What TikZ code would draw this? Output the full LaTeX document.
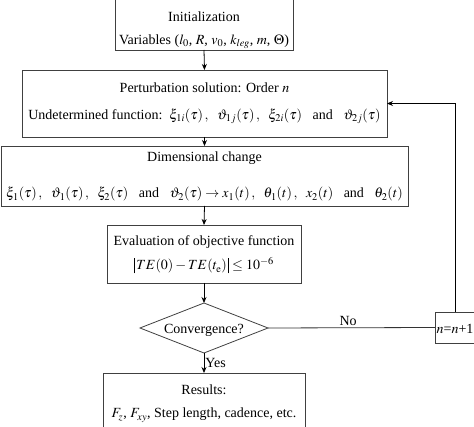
\documentclass[tikz,border=0pt]{standalone}
\usepackage{mathptmx}
\usepackage{fontspec}
\setmainfont{Liberation Serif}
\usetikzlibrary{shapes.geometric,arrows.meta}
\newcommand{\absbar}{\rule[-3.5pt]{0.6pt}{15pt}}
\begin{document}
\begin{tikzpicture}[x=1pt,y=-1pt,
  box/.style={draw=black!75,line width=0.8pt,inner sep=0pt,outer sep=0pt},
  txt/.style={anchor=base,inner sep=0pt,font=\fontsize{14}{16}\selectfont},
  arr/.style={draw=black,line width=0.8pt,-{Stealth[length=6pt,width=5pt]}},
  lin/.style={draw=black!80,line width=0.8pt}]
\useasboundingbox (0,0) rectangle (474,427);
% boxes
\node[box,minimum width=178pt,minimum height=60pt] (b1) at (204,20) {};
\node[box,minimum width=365pt,minimum height=67pt] (b2) at (204.5,103.5) {};
\node[box,minimum width=407pt,minimum height=60pt] (b3) at (204.5,176) {};
\node[box,minimum width=194pt,minimum height=58pt] (b4) at (204,254) {};
\node[box,diamond,minimum width=128pt,minimum height=50pt] (d) at (204,328) {};
\node[box,minimum width=40pt,minimum height=31pt] (nb) at (455,327.5) {};
\node[box,minimum width=202pt,minimum height=67pt] (res) at (204,406.5) {};
% texts
\node[txt] (t1a) at (204,22) {Initialization};
\node[txt] (t1b) at (204,44.5) {Variables ($l_0$, $R$, $v_0$, $k_{leg}$, $m$, $\Theta$)};
\node[txt] (t2a) at (204.5,93) {Perturbation solution: Order $n$};
\node[txt] (t2b) at (204.5,119.5) {Undetermined function:\ \ $\xi_{1i}(\tau)\,,\ \ \vartheta_{1j}(\tau)\,,\ \ \xi_{2i}(\tau)\ \ \ \mbox{and}\ \ \ \vartheta_{2j}(\tau)$};
\node[txt] (t3a) at (204.5,162) {Dimensional change};
\node[txt] (t3b) at (204.5,198) {$\xi_1(\tau)\,,\ \ \vartheta_1(\tau)\,,\ \ \xi_2(\tau)\ \ \ \mbox{and}\ \ \ \vartheta_2(\tau)\rightarrow x_1(t)\,,\ \ \theta_1(t)\,,\ \ x_2(t)\ \ \ \mbox{and}\ \ \ \theta_2(t)$};
\node[txt] (t4a) at (204,245.5) {Evaluation of objective function};
\node[txt] (t4b) at (204,270) {$\absbar\,TE(0)-TE(t_\mathrm{e})\,\absbar\le 10^{-6}$};
\node[txt] (td) at (204,334) {Convergence?};
\node[txt] (tn) at (455,334) {$n$=$n$+1};
\node[txt] (tr1) at (204,395) {Results:};
\node[txt] (tr2) at (204,418) {$F_z$, $F_{xy}$, Step length, cadence, etc.};
% connectors
\draw[arr] (b1.south) -- (b2.north);
\draw[arr] (b2.south) -- (b3.north);
\draw[arr] (b3.south) -- (b4.north);
\draw[arr] (b4.south) -- (d.north);
\draw[arr] (d.south) -- node[right,inner sep=1pt,font=\fontsize{14}{16}\selectfont] (yes) {Yes} (res.north);
\draw[lin] (d.east) -- node[above,inner sep=2pt,font=\fontsize{14}{16}\selectfont,pos=0.48] (no) {No} (nb.west);
\draw[arr] (nb.north) -- (nb.north |- b2.east) -- (b2.east);
\end{tikzpicture}
\end{document}
